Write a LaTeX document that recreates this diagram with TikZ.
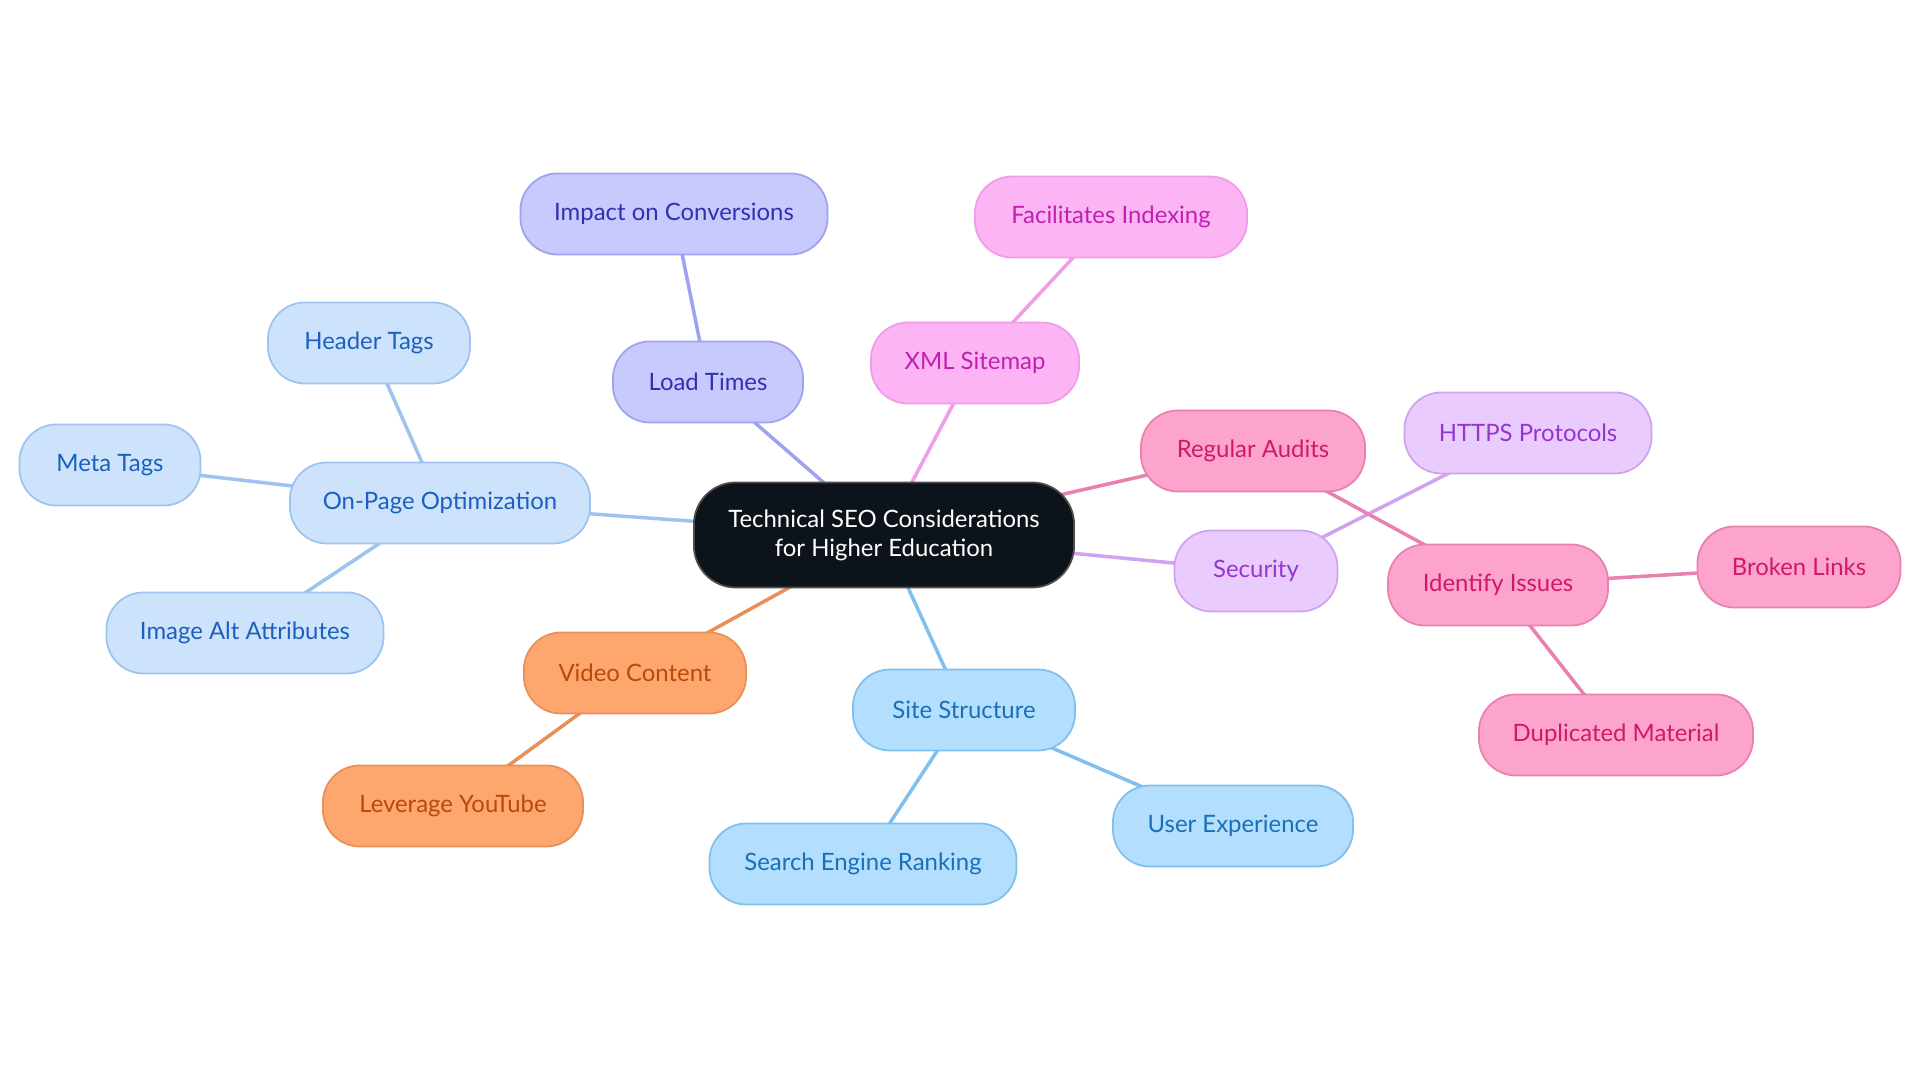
\documentclass[tikz,border=0pt]{standalone}
\usepackage{fontspec}
\setmainfont{Lato}
\usetikzlibrary{backgrounds}

\definecolor{bluefill}{HTML}{CCE3FB}
\definecolor{bluedraw}{HTML}{9DC3EE}
\definecolor{bluetext}{HTML}{1C5FBF}
\definecolor{indigofill}{HTML}{C8CAFD}
\definecolor{indigodraw}{HTML}{9FA2EC}
\definecolor{indigotext}{HTML}{3030B0}
\definecolor{magentafill}{HTML}{FDB4F5}
\definecolor{magentadraw}{HTML}{EE9DE8}
\definecolor{magentatext}{HTML}{C020B0}
\definecolor{pinkfill}{HTML}{FDA4CC}
\definecolor{pinkdraw}{HTML}{E880B0}
\definecolor{pinktext}{HTML}{D0186A}
\definecolor{violetfill}{HTML}{EACBFD}
\definecolor{violetdraw}{HTML}{D0A3EE}
\definecolor{violettext}{HTML}{9535D0}
\definecolor{skyfill}{HTML}{B3DEFD}
\definecolor{skydraw}{HTML}{80C0EE}
\definecolor{skytext}{HTML}{1870B8}
\definecolor{orangefill}{HTML}{FDA66E}
\definecolor{orangedraw}{HTML}{E8905A}
\definecolor{orangetext}{HTML}{B84A0A}
\definecolor{rootfill}{HTML}{0D131A}

\begin{document}
\begin{tikzpicture}[
    x=0.01cm, y=-0.01cm,
    pill/.style={draw, rounded corners=0.37cm, minimum height=0.81cm, align=center, line width=0.5pt,
      font=\fontsize{6.8pt}{8.2pt}\selectfont},
    branch/.style={pill, fill=#1fill, draw=#1draw, text=#1text},
    link/.style={line width=1pt, draw=#1draw},
    rootbox/.style={draw=black!70, fill=rootfill, text=white, rounded corners=0.42cm, minimum width=3.8cm,
      minimum height=1.05cm, align=center, line width=0.5pt, font=\fontsize{6.8pt}{8.2pt}\selectfont}
  ]
  \useasboundingbox (0,0) rectangle (1920,1083);
  % centre
  \node[rootbox] (root) at (884,535) {Technical SEO Considerations\\for Higher Education};
  % first ring
  \node[branch=indigo, minimum width=1.90cm] (load) at (708,382) {Load Times};
  \node[branch=magenta, minimum width=2.08cm] (xml) at (975,363) {XML Sitemap};
  \node[branch=pink, minimum width=2.24cm] (audits) at (1253,451) {Regular Audits};
  \node[branch=violet, minimum width=1.63cm] (security) at (1256,571) {Security};
  \node[branch=sky, minimum width=2.22cm] (site) at (964,710) {Site Structure};
  \node[branch=orange, minimum width=2.22cm] (video) at (635,673) {Video Content};
  \node[branch=blue, minimum width=3.00cm] (onpage) at (440,503) {On-Page Optimization};
  % leaves
  \node[branch=indigo, minimum width=3.07cm] (conversions) at (674,214) {Impact on Conversions};
  \node[branch=magenta, minimum width=2.72cm] (indexing) at (1111,217) {Facilitates Indexing};
  \node[branch=pink, minimum width=2.20cm] (issues) at (1498,585) {Identify Issues};
  \node[branch=pink, minimum width=2.03cm] (broken) at (1799,567) {Broken Links};
  \node[branch=pink, minimum width=2.74cm] (duplicated) at (1616,735) {Duplicated Material};
  \node[branch=violet, minimum width=2.47cm] (https) at (1528,433) {HTTPS Protocols};
  \node[branch=sky, minimum width=2.40cm] (experience) at (1233,826) {User Experience};
  \node[branch=sky, minimum width=3.07cm] (ranking) at (863,864) {Search Engine Ranking};
  \node[branch=orange, minimum width=2.60cm] (youtube) at (453,806) {Leverage YouTube};
  \node[branch=blue, minimum width=2.02cm] (header) at (369,343) {Header Tags};
  \node[branch=blue, minimum width=1.81cm] (meta) at (110,465) {Meta Tags};
  \node[branch=blue, minimum width=2.77cm] (alt) at (245,633) {Image Alt Attributes};
  % connectors behind the boxes
  \begin{scope}[on background layer]
    \draw[link=indigo] (root.center) -- (load.center) -- (conversions.center);
    \draw[link=magenta] (root.center) -- (xml.center) -- (indexing.center);
    \draw[link=violet] (root.center) -- (security.center) -- (https.center);
    \draw[link=pink] (root.center) -- (audits.center) -- (issues.center);
    \draw[link=pink] (issues.center) -- (broken.center);
    \draw[link=pink] (issues.center) -- (duplicated.center);
    \draw[link=sky] (root.center) -- (site.center) -- (experience.center);
    \draw[link=sky] (site.center) -- (ranking.center);
    \draw[link=orange] (root.center) -- (video.center) -- (youtube.center);
    \draw[link=blue] (root.center) -- (onpage.center) -- (header.center);
    \draw[link=blue] (onpage.center) -- (meta.center);
    \draw[link=blue] (onpage.center) -- (alt.center);
  \end{scope}
\end{tikzpicture}
\end{document}
